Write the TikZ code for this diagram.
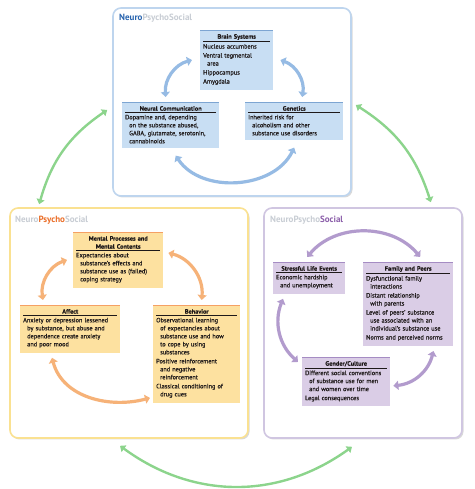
\documentclass[tikz,border=0pt]{standalone}
\usepackage{fontspec}
\setmainfont{PT Sans}
\newfontfamily\bodyfont{PT Sans}[FakeBold=0.35]
\usepackage{xcolor}
\usepackage{tikz}
\usetikzlibrary{arrows.meta, positioning, shadows}
\definecolor{neuroblue}{RGB}{40,100,175}
\definecolor{blueframe}{RGB}{190,213,238}
\definecolor{bluefill}{RGB}{200,222,243}
\definecolor{bluearrow}{RGB}{150,187,228}
\definecolor{bluetop}{RGB}{125,165,210}
\definecolor{psychoorange}{RGB}{235,110,40}
\definecolor{orangeframe}{RGB}{250,225,145}
\definecolor{orangefill}{RGB}{253,225,160}
\definecolor{orangearrow}{RGB}{246,178,120}
\definecolor{orangetop}{RGB}{245,160,100}
\definecolor{socialpurple}{RGB}{140,95,170}
\definecolor{purpleframe}{RGB}{208,198,225}
\definecolor{purplefill}{RGB}{218,205,230}
\definecolor{purplearrow}{RGB}{178,155,205}
\definecolor{purpletop}{RGB}{165,140,195}
\definecolor{linkgreen}{RGB}{140,212,140}
\definecolor{labelgrey}{RGB}{200,205,212}
\definecolor{inktext}{RGB}{30,25,25}
\newcommand{\boxhead}[1]{{\centering\bfseries #1\par}\vspace{1.5pt}\hrule height 0.6pt\vspace{2pt}}
\newcommand{\itm}[1]{\par\hangindent=4pt\hangafter=1\noindent #1\par\vspace{1pt}}

\begin{document}
\begin{tikzpicture}[x=1pt, y=1pt,
    frame/.style={draw=#1frame, line width=1.6pt, rounded corners=8pt, fill=white,
      drop shadow={shadow xshift=1.5pt, shadow yshift=-1.5pt, opacity=0.3, fill=gray}},
    title/.style={anchor=west, inner sep=0pt, font=\fontsize{9}{10}\selectfont\bfseries, text=labelgrey},
    cellbox/.style={fill=#1fill, anchor=north west, inner xsep=3pt, inner ysep=4pt, align=left, text=inktext,
      font=\bodyfont\fontsize{6.3}{8}\selectfont,
      path picture={\draw[#1top, line width=1.4pt] (path picture bounding box.north west) -- (path picture bounding box.north east);}},
    cyclearrow/.style={draw=#1arrow, line width=3.2pt, {Triangle[length=5pt,width=9pt]}-{Triangle[length=5pt,width=9pt]}},
    linkarrow/.style={draw=linkgreen, line width=2.4pt, {Triangle[length=5pt,width=8pt]}-{Triangle[length=5pt,width=8pt]}}]
  \useasboundingbox (0,0) rectangle (474,489);

  \node[frame=blue, minimum width=238pt, minimum height=188pt] (neuro) at (232,387) {};
  \node[frame=orange, minimum width=238pt, minimum height=230pt] (psycho) at (129,166) {};
  \node[frame=purple, minimum width=198pt, minimum height=230pt] (social) at (363,166) {};

  \node[title] (neurotitle) at (119,471) {\textcolor{neuroblue}{Neuro}PsychoSocial};
  \node[title] (psychotitle) at (15,269) {Neuro\textcolor{psychoorange}{Psycho}Social};
  \node[title] (socialtitle) at (270,269) {NeuroPsycho\textcolor{socialpurple}{Social}};

  \draw[linkarrow] ([shift={(-5pt,-8pt)}]neuro.west) to[bend right=20] ([shift={(30pt,3pt)}]psycho.north west);
  \draw[linkarrow] ([shift={(4pt,-3pt)}]neuro.east) to[bend left=20] ([shift={(-32pt,5pt)}]social.north east);
  \draw[linkarrow] ([shift={(-9pt,-7pt)}]psycho.south) to[bend right=36] ([shift={(-11pt,-8pt)}]social.south);

  \node[cellbox=blue, text width=67pt] (brain) at (200,459) {\boxhead{Brain Systems}
    \itm{Nucleus accumbens}\itm{Ventral tegmental\newline area}\itm{Hippocampus}\itm{Amygdala}};
  \node[cellbox=blue, text width=91pt] (neural) at (122,387) {\boxhead{Neural Communication}
    \itm{Dopamine and, depending\newline on the substance abused,\newline GABA, glutamate, serotonin,\newline cannabinoids}};
  \node[cellbox=blue, text width=92pt] (genetics) at (245,387) {\boxhead{Genetics}
    \itm{Inherited risk for\newline alcoholism and other\newline substance use disorders}};

  \node[cellbox=orange, text width=84pt] (mental) at (73,257) {\boxhead{Mental Processes and\\Mental Contents}
    \itm{Expectancies about\newline substance’s effects and\newline substance use as (failed)\newline coping strategy}};
  \node[cellbox=orange, text width=94pt] (affect) at (20,184) {\boxhead{Affect}
    \itm{Anxiety or depression lessened\newline by substance, but abuse and\newline dependence create anxiety\newline and poor mood}};
  \node[cellbox=orange, text width=81pt] (behavior) at (153,184) {\boxhead{Behavior}
    \itm{Observational learning\newline of expectancies about\newline substance use and how\newline to cope by using\newline substances}
    \itm{Positive reinforcement\newline and negative\newline reinforcement}
    \itm{Classical conditioning of\newline drug cues}};

  \node[cellbox=purple, text width=66pt] (stressful) at (273,227) {\boxhead{Stressful Life Events}
    \itm{Economic hardship\newline and unemployment}};
  \node[cellbox=purple, text width=84pt] (family) at (363,227) {\boxhead{Family and Peers}
    \itm{Dysfunctional family\newline interactions}\itm{Distant relationship\newline with parents}
    \itm{Level of peers’ substance\newline use associated with an\newline individual’s substance use}
    \itm{Norms and perceived norms}};
  \node[cellbox=purple, text width=82pt] (gender) at (302,132) {\boxhead{Gender/Culture}
    \itm{Different social conventions\newline of substance use for men\newline and women over time}
    \itm{Legal consequences}};

  \draw[cyclearrow=blue] ([xshift=-8pt]brain.west) to[bend right=40] ([shift={(-5pt,5pt)}]neural.north);
  \draw[cyclearrow=blue] ([xshift=7pt]brain.east) to[bend left=40] ([shift={(8pt,5pt)}]genetics.north);
  \draw[cyclearrow=blue] ([shift={(5pt,-7pt)}]neural.south) to[bend right=60] ([yshift=-7pt]genetics.south);

  \draw[cyclearrow=orange] ([xshift=-6pt]mental.west) to[bend right=40] ([shift={(23pt,5pt)}]affect.north west);
  \draw[cyclearrow=orange] ([shift={(5pt,7pt)}]mental.east) to[bend left=40] ([shift={(5pt,5pt)}]behavior.north);
  \draw[cyclearrow=orange] ([shift={(32pt,-5pt)}]affect.south west) to[out=-75, in=195] ([shift={(-3pt,5pt)}]behavior.south west);

  \draw[cyclearrow=purple] ([shift={(-2pt,5pt)}]stressful.north) to[bend left=50] ([shift={(12pt,5pt)}]family.north);
  \draw[cyclearrow=purple] ([shift={(10pt,-5pt)}]stressful.south west) to[bend right=35] ([shift={(-4pt,-5pt)}]gender.north west);
  \draw[cyclearrow=purple] ([shift={(-20pt,-5pt)}]family.south east) to[bend left=35] ([shift={(3pt,-4pt)}]gender.east);
\end{tikzpicture}
\end{document}
